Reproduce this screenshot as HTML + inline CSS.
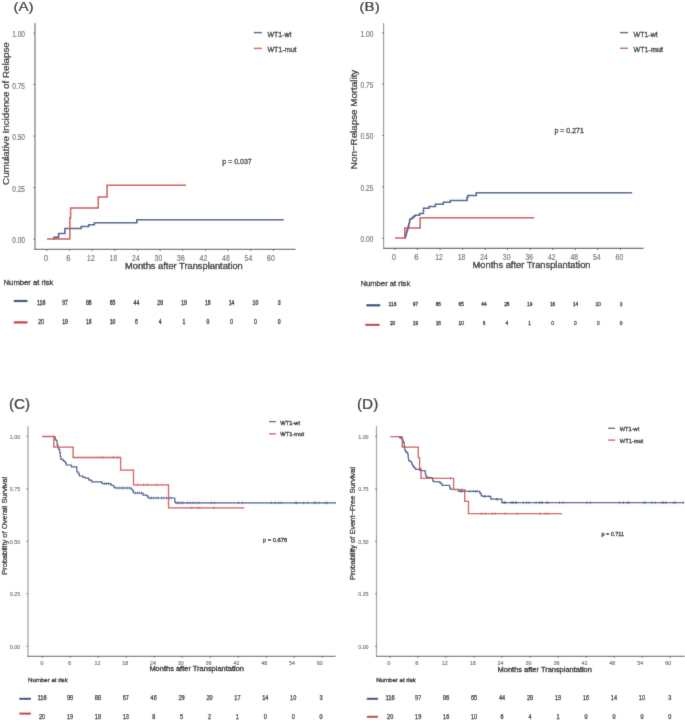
<!DOCTYPE html>
<html><head><meta charset="utf-8"><title>Figure</title>
<style>
html,body{margin:0;padding:0;background:#fff;}
body{width:685px;height:720px;overflow:hidden;}
svg{display:block;}
text{font-family:'Liberation Sans', Arial, sans-serif;}
</style></head>
<body>
<div id="w"><svg width="685" height="720" viewBox="0 0 685 720">
<defs><filter id="bl" x="0" y="0" width="685" height="720" filterUnits="userSpaceOnUse"><feConvolveMatrix order="3" kernelMatrix="0.0114 0.084 0.0114 0.084 0.618 0.084 0.0114 0.084 0.0114" edgeMode="duplicate" preserveAlpha="true"/></filter></defs>
<g filter="url(#bl)">
<rect width="685" height="720" fill="#ffffff"/>
<line x1="35.00" y1="22.90" x2="35.00" y2="250.00" stroke="#9a9893" stroke-width="1.6"/>
<line x1="34.20" y1="249.40" x2="295.60" y2="249.40" stroke="#6c6c6c" stroke-width="1.2"/>
<line x1="33.40" y1="33.10" x2="35.00" y2="33.10" stroke="#444" stroke-width="0.8"/>
<text x="25.0" y="37.0" font-size="8.2" fill="#6a6a6a" stroke="#6a6a6a" stroke-width="0.15" text-anchor="end" textLength="12.7" lengthAdjust="spacingAndGlyphs">1.00</text>
<line x1="33.40" y1="84.60" x2="35.00" y2="84.60" stroke="#444" stroke-width="0.8"/>
<text x="25.0" y="88.5" font-size="8.2" fill="#6a6a6a" stroke="#6a6a6a" stroke-width="0.15" text-anchor="end" textLength="12.7" lengthAdjust="spacingAndGlyphs">0.75</text>
<line x1="33.40" y1="136.10" x2="35.00" y2="136.10" stroke="#444" stroke-width="0.8"/>
<text x="25.0" y="140.0" font-size="8.2" fill="#6a6a6a" stroke="#6a6a6a" stroke-width="0.15" text-anchor="end" textLength="12.7" lengthAdjust="spacingAndGlyphs">0.50</text>
<line x1="33.40" y1="187.60" x2="35.00" y2="187.60" stroke="#444" stroke-width="0.8"/>
<text x="25.0" y="191.5" font-size="8.2" fill="#6a6a6a" stroke="#6a6a6a" stroke-width="0.15" text-anchor="end" textLength="12.7" lengthAdjust="spacingAndGlyphs">0.25</text>
<line x1="33.40" y1="239.10" x2="35.00" y2="239.10" stroke="#444" stroke-width="0.8"/>
<text x="25.0" y="243.0" font-size="8.2" fill="#6a6a6a" stroke="#6a6a6a" stroke-width="0.15" text-anchor="end" textLength="12.7" lengthAdjust="spacingAndGlyphs">0.00</text>
<line x1="46.80" y1="249.40" x2="46.80" y2="251.00" stroke="#444" stroke-width="0.8"/>
<text x="45.90" y="260.8" font-size="8.4" fill="#6a6a6a" stroke="#6a6a6a" stroke-width="0.15" text-anchor="middle" textLength="4.3" lengthAdjust="spacingAndGlyphs">0</text>
<line x1="69.46" y1="249.40" x2="69.46" y2="251.00" stroke="#444" stroke-width="0.8"/>
<text x="68.40" y="260.8" font-size="8.4" fill="#6a6a6a" stroke="#6a6a6a" stroke-width="0.15" text-anchor="middle" textLength="4.3" lengthAdjust="spacingAndGlyphs">6</text>
<line x1="92.12" y1="249.40" x2="92.12" y2="251.00" stroke="#444" stroke-width="0.8"/>
<text x="90.90" y="260.8" font-size="8.4" fill="#6a6a6a" stroke="#6a6a6a" stroke-width="0.15" text-anchor="middle" textLength="7.6" lengthAdjust="spacingAndGlyphs">12</text>
<line x1="114.78" y1="249.40" x2="114.78" y2="251.00" stroke="#444" stroke-width="0.8"/>
<text x="113.40" y="260.8" font-size="8.4" fill="#6a6a6a" stroke="#6a6a6a" stroke-width="0.15" text-anchor="middle" textLength="7.6" lengthAdjust="spacingAndGlyphs">18</text>
<line x1="137.44" y1="249.40" x2="137.44" y2="251.00" stroke="#444" stroke-width="0.8"/>
<text x="135.90" y="260.8" font-size="8.4" fill="#6a6a6a" stroke="#6a6a6a" stroke-width="0.15" text-anchor="middle" textLength="7.6" lengthAdjust="spacingAndGlyphs">24</text>
<line x1="160.10" y1="249.40" x2="160.10" y2="251.00" stroke="#444" stroke-width="0.8"/>
<text x="158.40" y="260.8" font-size="8.4" fill="#6a6a6a" stroke="#6a6a6a" stroke-width="0.15" text-anchor="middle" textLength="7.6" lengthAdjust="spacingAndGlyphs">30</text>
<line x1="182.76" y1="249.40" x2="182.76" y2="251.00" stroke="#444" stroke-width="0.8"/>
<text x="180.90" y="260.8" font-size="8.4" fill="#6a6a6a" stroke="#6a6a6a" stroke-width="0.15" text-anchor="middle" textLength="7.6" lengthAdjust="spacingAndGlyphs">36</text>
<line x1="205.42" y1="249.40" x2="205.42" y2="251.00" stroke="#444" stroke-width="0.8"/>
<text x="203.40" y="260.8" font-size="8.4" fill="#6a6a6a" stroke="#6a6a6a" stroke-width="0.15" text-anchor="middle" textLength="7.6" lengthAdjust="spacingAndGlyphs">42</text>
<line x1="228.08" y1="249.40" x2="228.08" y2="251.00" stroke="#444" stroke-width="0.8"/>
<text x="225.90" y="260.8" font-size="8.4" fill="#6a6a6a" stroke="#6a6a6a" stroke-width="0.15" text-anchor="middle" textLength="7.6" lengthAdjust="spacingAndGlyphs">48</text>
<line x1="250.74" y1="249.40" x2="250.74" y2="251.00" stroke="#444" stroke-width="0.8"/>
<text x="248.40" y="260.8" font-size="8.4" fill="#6a6a6a" stroke="#6a6a6a" stroke-width="0.15" text-anchor="middle" textLength="7.6" lengthAdjust="spacingAndGlyphs">54</text>
<line x1="273.40" y1="249.40" x2="273.40" y2="251.00" stroke="#444" stroke-width="0.8"/>
<text x="270.90" y="260.8" font-size="8.4" fill="#6a6a6a" stroke="#6a6a6a" stroke-width="0.15" text-anchor="middle" textLength="7.6" lengthAdjust="spacingAndGlyphs">60</text>
<text x="125.0" y="268.9" font-size="9.2" fill="#222222" stroke="#222222" stroke-width="0.28" textLength="117.8" lengthAdjust="spacingAndGlyphs">Months after Transplantation</text>
<text transform="translate(8.9,113.6) rotate(-90)" font-size="9.7" fill="#222222" stroke="#222222" stroke-width="0.28" text-anchor="middle" textLength="142.6" lengthAdjust="spacingAndGlyphs">Cumulative Incidence of Relapse</text>
<text x="13.4" y="11.2" font-size="13.5" fill="#111111" stroke="#111111" stroke-width="0.2" textLength="20.2" lengthAdjust="spacingAndGlyphs">(A)</text>
<line x1="253.80" y1="32.60" x2="262.00" y2="32.60" stroke="#3d5489" stroke-width="1.4"/>
<line x1="253.80" y1="48.40" x2="262.00" y2="48.40" stroke="#cf4d4d" stroke-width="1.4"/>
<text x="267.4" y="37.3" font-size="7.6" fill="#222" stroke="#222" stroke-width="0.28" textLength="24.0" lengthAdjust="spacingAndGlyphs">WT1-wt</text>
<text x="267.4" y="52.1" font-size="7.6" fill="#222" stroke="#222" stroke-width="0.28" textLength="29.2" lengthAdjust="spacingAndGlyphs">WT1-mut</text>
<text x="222.3" y="164.3" font-size="7.6" fill="#222" stroke="#222" stroke-width="0.28" textLength="29.4" lengthAdjust="spacingAndGlyphs">p = 0.037</text>
<text x="3.6" y="284.9" font-size="7.8" fill="#222222" stroke="#222222" stroke-width="0.28" textLength="49.8" lengthAdjust="spacingAndGlyphs">Number at risk</text>
<line x1="13.70" y1="301.00" x2="27.50" y2="301.00" stroke="#26427c" stroke-width="2.2"/>
<line x1="13.70" y1="322.40" x2="27.50" y2="322.40" stroke="#c83434" stroke-width="2.2"/>
<text x="41.20" y="304.8" font-size="6.4" fill="#222" stroke="#222" stroke-width="0.3" text-anchor="middle" textLength="8.55" lengthAdjust="spacingAndGlyphs">116</text>
<text x="65.00" y="304.8" font-size="6.4" fill="#222" stroke="#222" stroke-width="0.3" text-anchor="middle" textLength="5.7" lengthAdjust="spacingAndGlyphs">97</text>
<text x="88.80" y="304.8" font-size="6.4" fill="#222" stroke="#222" stroke-width="0.3" text-anchor="middle" textLength="5.7" lengthAdjust="spacingAndGlyphs">86</text>
<text x="112.60" y="304.8" font-size="6.4" fill="#222" stroke="#222" stroke-width="0.3" text-anchor="middle" textLength="5.7" lengthAdjust="spacingAndGlyphs">65</text>
<text x="136.40" y="304.8" font-size="6.4" fill="#222" stroke="#222" stroke-width="0.3" text-anchor="middle" textLength="5.7" lengthAdjust="spacingAndGlyphs">44</text>
<text x="160.20" y="304.8" font-size="6.4" fill="#222" stroke="#222" stroke-width="0.3" text-anchor="middle" textLength="5.7" lengthAdjust="spacingAndGlyphs">28</text>
<text x="184.00" y="304.8" font-size="6.4" fill="#222" stroke="#222" stroke-width="0.3" text-anchor="middle" textLength="5.7" lengthAdjust="spacingAndGlyphs">19</text>
<text x="207.80" y="304.8" font-size="6.4" fill="#222" stroke="#222" stroke-width="0.3" text-anchor="middle" textLength="5.7" lengthAdjust="spacingAndGlyphs">16</text>
<text x="231.60" y="304.8" font-size="6.4" fill="#222" stroke="#222" stroke-width="0.3" text-anchor="middle" textLength="5.7" lengthAdjust="spacingAndGlyphs">14</text>
<text x="255.40" y="304.8" font-size="6.4" fill="#222" stroke="#222" stroke-width="0.3" text-anchor="middle" textLength="5.7" lengthAdjust="spacingAndGlyphs">10</text>
<text x="279.20" y="304.8" font-size="6.4" fill="#222" stroke="#222" stroke-width="0.3" text-anchor="middle" textLength="2.85" lengthAdjust="spacingAndGlyphs">3</text>
<text x="41.20" y="324.1" font-size="6.4" fill="#222" stroke="#222" stroke-width="0.3" text-anchor="middle" textLength="5.7" lengthAdjust="spacingAndGlyphs">20</text>
<text x="65.00" y="324.1" font-size="6.4" fill="#222" stroke="#222" stroke-width="0.3" text-anchor="middle" textLength="5.7" lengthAdjust="spacingAndGlyphs">19</text>
<text x="88.80" y="324.1" font-size="6.4" fill="#222" stroke="#222" stroke-width="0.3" text-anchor="middle" textLength="5.7" lengthAdjust="spacingAndGlyphs">16</text>
<text x="112.60" y="324.1" font-size="6.4" fill="#222" stroke="#222" stroke-width="0.3" text-anchor="middle" textLength="5.7" lengthAdjust="spacingAndGlyphs">10</text>
<text x="136.40" y="324.1" font-size="6.4" fill="#222" stroke="#222" stroke-width="0.3" text-anchor="middle" textLength="2.85" lengthAdjust="spacingAndGlyphs">6</text>
<text x="160.20" y="324.1" font-size="6.4" fill="#222" stroke="#222" stroke-width="0.3" text-anchor="middle" textLength="2.85" lengthAdjust="spacingAndGlyphs">4</text>
<text x="184.00" y="324.1" font-size="6.4" fill="#222" stroke="#222" stroke-width="0.3" text-anchor="middle" textLength="2.85" lengthAdjust="spacingAndGlyphs">1</text>
<text x="207.80" y="324.1" font-size="6.4" fill="#222" stroke="#222" stroke-width="0.3" text-anchor="middle" textLength="2.85" lengthAdjust="spacingAndGlyphs">0</text>
<text x="231.60" y="324.1" font-size="6.4" fill="#222" stroke="#222" stroke-width="0.3" text-anchor="middle" textLength="2.85" lengthAdjust="spacingAndGlyphs">0</text>
<text x="255.40" y="324.1" font-size="6.4" fill="#222" stroke="#222" stroke-width="0.3" text-anchor="middle" textLength="2.85" lengthAdjust="spacingAndGlyphs">0</text>
<text x="279.20" y="324.1" font-size="6.4" fill="#222" stroke="#222" stroke-width="0.3" text-anchor="middle" textLength="2.85" lengthAdjust="spacingAndGlyphs">0</text>
<path d="M53.20,239.10 H54.00 V237.30 H58.60 V233.50 H64.90 V228.40 H81.20 V226.50 H88.60 V224.70 H94.40 V222.80 H136.80 V219.70 H283.80" fill="none" stroke="#3d5489" stroke-width="1.5" stroke-linejoin="miter" stroke-linecap="butt"/>
<path d="M47.00,239.10 H69.80 V218.00 H70.60 V208.00 H98.30 V197.10 H107.10 V185.20 H186.00" fill="none" stroke="#cf4d4d" stroke-width="1.5" stroke-linejoin="miter" stroke-linecap="butt"/>
<line x1="383.60" y1="22.90" x2="383.60" y2="249.00" stroke="#979797" stroke-width="1.2"/>
<line x1="383.00" y1="248.40" x2="643.60" y2="248.40" stroke="#5e5e5e" stroke-width="1.2"/>
<line x1="382.00" y1="32.80" x2="383.60" y2="32.80" stroke="#444" stroke-width="0.8"/>
<text x="373.3" y="36.699999999999996" font-size="8.2" fill="#6a6a6a" stroke="#6a6a6a" stroke-width="0.15" text-anchor="end" textLength="12.8" lengthAdjust="spacingAndGlyphs">1.00</text>
<line x1="382.00" y1="84.20" x2="383.60" y2="84.20" stroke="#444" stroke-width="0.8"/>
<text x="373.3" y="88.10000000000001" font-size="8.2" fill="#6a6a6a" stroke="#6a6a6a" stroke-width="0.15" text-anchor="end" textLength="12.8" lengthAdjust="spacingAndGlyphs">0.75</text>
<line x1="382.00" y1="135.55" x2="383.60" y2="135.55" stroke="#444" stroke-width="0.8"/>
<text x="373.3" y="139.45000000000002" font-size="8.2" fill="#6a6a6a" stroke="#6a6a6a" stroke-width="0.15" text-anchor="end" textLength="12.8" lengthAdjust="spacingAndGlyphs">0.50</text>
<line x1="382.00" y1="186.90" x2="383.60" y2="186.90" stroke="#444" stroke-width="0.8"/>
<text x="373.3" y="190.8" font-size="8.2" fill="#6a6a6a" stroke="#6a6a6a" stroke-width="0.15" text-anchor="end" textLength="12.8" lengthAdjust="spacingAndGlyphs">0.25</text>
<line x1="382.00" y1="238.30" x2="383.60" y2="238.30" stroke="#444" stroke-width="0.8"/>
<text x="373.3" y="242.20000000000002" font-size="8.2" fill="#6a6a6a" stroke="#6a6a6a" stroke-width="0.15" text-anchor="end" textLength="12.8" lengthAdjust="spacingAndGlyphs">0.00</text>
<line x1="394.90" y1="248.40" x2="394.90" y2="250.00" stroke="#444" stroke-width="0.8"/>
<text x="393.90" y="259.8" font-size="8.4" fill="#6a6a6a" stroke="#6a6a6a" stroke-width="0.15" text-anchor="middle" textLength="4.3" lengthAdjust="spacingAndGlyphs">0</text>
<line x1="417.45" y1="248.40" x2="417.45" y2="250.00" stroke="#444" stroke-width="0.8"/>
<text x="416.45" y="259.8" font-size="8.4" fill="#6a6a6a" stroke="#6a6a6a" stroke-width="0.15" text-anchor="middle" textLength="4.3" lengthAdjust="spacingAndGlyphs">6</text>
<line x1="440.00" y1="248.40" x2="440.00" y2="250.00" stroke="#444" stroke-width="0.8"/>
<text x="439.00" y="259.8" font-size="8.4" fill="#6a6a6a" stroke="#6a6a6a" stroke-width="0.15" text-anchor="middle" textLength="7.6" lengthAdjust="spacingAndGlyphs">12</text>
<line x1="462.55" y1="248.40" x2="462.55" y2="250.00" stroke="#444" stroke-width="0.8"/>
<text x="461.55" y="259.8" font-size="8.4" fill="#6a6a6a" stroke="#6a6a6a" stroke-width="0.15" text-anchor="middle" textLength="7.6" lengthAdjust="spacingAndGlyphs">18</text>
<line x1="485.10" y1="248.40" x2="485.10" y2="250.00" stroke="#444" stroke-width="0.8"/>
<text x="484.10" y="259.8" font-size="8.4" fill="#6a6a6a" stroke="#6a6a6a" stroke-width="0.15" text-anchor="middle" textLength="7.6" lengthAdjust="spacingAndGlyphs">24</text>
<line x1="507.65" y1="248.40" x2="507.65" y2="250.00" stroke="#444" stroke-width="0.8"/>
<text x="506.65" y="259.8" font-size="8.4" fill="#6a6a6a" stroke="#6a6a6a" stroke-width="0.15" text-anchor="middle" textLength="7.6" lengthAdjust="spacingAndGlyphs">30</text>
<line x1="530.20" y1="248.40" x2="530.20" y2="250.00" stroke="#444" stroke-width="0.8"/>
<text x="529.20" y="259.8" font-size="8.4" fill="#6a6a6a" stroke="#6a6a6a" stroke-width="0.15" text-anchor="middle" textLength="7.6" lengthAdjust="spacingAndGlyphs">36</text>
<line x1="552.75" y1="248.40" x2="552.75" y2="250.00" stroke="#444" stroke-width="0.8"/>
<text x="551.75" y="259.8" font-size="8.4" fill="#6a6a6a" stroke="#6a6a6a" stroke-width="0.15" text-anchor="middle" textLength="7.6" lengthAdjust="spacingAndGlyphs">42</text>
<line x1="575.30" y1="248.40" x2="575.30" y2="250.00" stroke="#444" stroke-width="0.8"/>
<text x="574.30" y="259.8" font-size="8.4" fill="#6a6a6a" stroke="#6a6a6a" stroke-width="0.15" text-anchor="middle" textLength="7.6" lengthAdjust="spacingAndGlyphs">48</text>
<line x1="597.85" y1="248.40" x2="597.85" y2="250.00" stroke="#444" stroke-width="0.8"/>
<text x="596.85" y="259.8" font-size="8.4" fill="#6a6a6a" stroke="#6a6a6a" stroke-width="0.15" text-anchor="middle" textLength="7.6" lengthAdjust="spacingAndGlyphs">54</text>
<line x1="620.40" y1="248.40" x2="620.40" y2="250.00" stroke="#444" stroke-width="0.8"/>
<text x="619.40" y="259.8" font-size="8.4" fill="#6a6a6a" stroke="#6a6a6a" stroke-width="0.15" text-anchor="middle" textLength="7.6" lengthAdjust="spacingAndGlyphs">60</text>
<text x="472.6" y="268.0" font-size="9.2" fill="#222222" stroke="#222222" stroke-width="0.28" textLength="117.9" lengthAdjust="spacingAndGlyphs">Months after Transplantation</text>
<text transform="translate(356.9,119.45) rotate(-90)" font-size="9.5" fill="#222222" stroke="#222222" stroke-width="0.28" text-anchor="middle" textLength="99.4" lengthAdjust="spacingAndGlyphs">Non−Relapse Mortality</text>
<text x="359.5" y="11.2" font-size="13.5" fill="#111111" stroke="#111111" stroke-width="0.2" textLength="20.2" lengthAdjust="spacingAndGlyphs">(B)</text>
<line x1="619.90" y1="32.60" x2="628.00" y2="32.60" stroke="#3d5489" stroke-width="1.4"/>
<line x1="619.90" y1="48.30" x2="628.00" y2="48.30" stroke="#cf4d4d" stroke-width="1.4"/>
<text x="633.5" y="37.3" font-size="7.6" fill="#222" stroke="#222" stroke-width="0.28" textLength="24.2" lengthAdjust="spacingAndGlyphs">WT1-wt</text>
<text x="633.5" y="52.1" font-size="7.6" fill="#222" stroke="#222" stroke-width="0.28" textLength="29.4" lengthAdjust="spacingAndGlyphs">WT1-mut</text>
<text x="554.5" y="133.0" font-size="7.6" fill="#222" stroke="#222" stroke-width="0.28" textLength="29.3" lengthAdjust="spacingAndGlyphs">p = 0.271</text>
<text x="360.4" y="286.1" font-size="7.8" fill="#222222" stroke="#222222" stroke-width="0.28" textLength="49.9" lengthAdjust="spacingAndGlyphs">Number at risk</text>
<line x1="366.30" y1="305.30" x2="380.30" y2="305.30" stroke="#26427c" stroke-width="2.2"/>
<line x1="365.40" y1="324.90" x2="379.60" y2="324.90" stroke="#c83434" stroke-width="2.2"/>
<text x="392.60" y="305.9" font-size="6.0" fill="#222" stroke="#222" stroke-width="0.3" text-anchor="middle" textLength="8.01" lengthAdjust="spacingAndGlyphs">116</text>
<text x="415.45" y="305.9" font-size="6.0" fill="#222" stroke="#222" stroke-width="0.3" text-anchor="middle" textLength="5.34" lengthAdjust="spacingAndGlyphs">97</text>
<text x="438.30" y="305.9" font-size="6.0" fill="#222" stroke="#222" stroke-width="0.3" text-anchor="middle" textLength="5.34" lengthAdjust="spacingAndGlyphs">86</text>
<text x="461.15" y="305.9" font-size="6.0" fill="#222" stroke="#222" stroke-width="0.3" text-anchor="middle" textLength="5.34" lengthAdjust="spacingAndGlyphs">65</text>
<text x="484.00" y="305.9" font-size="6.0" fill="#222" stroke="#222" stroke-width="0.3" text-anchor="middle" textLength="5.34" lengthAdjust="spacingAndGlyphs">44</text>
<text x="506.85" y="305.9" font-size="6.0" fill="#222" stroke="#222" stroke-width="0.3" text-anchor="middle" textLength="5.34" lengthAdjust="spacingAndGlyphs">28</text>
<text x="529.70" y="305.9" font-size="6.0" fill="#222" stroke="#222" stroke-width="0.3" text-anchor="middle" textLength="5.34" lengthAdjust="spacingAndGlyphs">19</text>
<text x="552.55" y="305.9" font-size="6.0" fill="#222" stroke="#222" stroke-width="0.3" text-anchor="middle" textLength="5.34" lengthAdjust="spacingAndGlyphs">16</text>
<text x="575.40" y="305.9" font-size="6.0" fill="#222" stroke="#222" stroke-width="0.3" text-anchor="middle" textLength="5.34" lengthAdjust="spacingAndGlyphs">14</text>
<text x="598.25" y="305.9" font-size="6.0" fill="#222" stroke="#222" stroke-width="0.3" text-anchor="middle" textLength="5.34" lengthAdjust="spacingAndGlyphs">10</text>
<text x="621.10" y="305.9" font-size="6.0" fill="#222" stroke="#222" stroke-width="0.3" text-anchor="middle" textLength="2.67" lengthAdjust="spacingAndGlyphs">3</text>
<text x="392.60" y="324.6" font-size="6.0" fill="#222" stroke="#222" stroke-width="0.3" text-anchor="middle" textLength="5.34" lengthAdjust="spacingAndGlyphs">20</text>
<text x="415.45" y="324.6" font-size="6.0" fill="#222" stroke="#222" stroke-width="0.3" text-anchor="middle" textLength="5.34" lengthAdjust="spacingAndGlyphs">19</text>
<text x="438.30" y="324.6" font-size="6.0" fill="#222" stroke="#222" stroke-width="0.3" text-anchor="middle" textLength="5.34" lengthAdjust="spacingAndGlyphs">16</text>
<text x="461.15" y="324.6" font-size="6.0" fill="#222" stroke="#222" stroke-width="0.3" text-anchor="middle" textLength="5.34" lengthAdjust="spacingAndGlyphs">10</text>
<text x="484.00" y="324.6" font-size="6.0" fill="#222" stroke="#222" stroke-width="0.3" text-anchor="middle" textLength="2.67" lengthAdjust="spacingAndGlyphs">6</text>
<text x="506.85" y="324.6" font-size="6.0" fill="#222" stroke="#222" stroke-width="0.3" text-anchor="middle" textLength="2.67" lengthAdjust="spacingAndGlyphs">4</text>
<text x="529.70" y="324.6" font-size="6.0" fill="#222" stroke="#222" stroke-width="0.3" text-anchor="middle" textLength="2.67" lengthAdjust="spacingAndGlyphs">1</text>
<text x="552.55" y="324.6" font-size="6.0" fill="#222" stroke="#222" stroke-width="0.3" text-anchor="middle" textLength="2.67" lengthAdjust="spacingAndGlyphs">0</text>
<text x="575.40" y="324.6" font-size="6.0" fill="#222" stroke="#222" stroke-width="0.3" text-anchor="middle" textLength="2.67" lengthAdjust="spacingAndGlyphs">0</text>
<text x="598.25" y="324.6" font-size="6.0" fill="#222" stroke="#222" stroke-width="0.3" text-anchor="middle" textLength="2.67" lengthAdjust="spacingAndGlyphs">0</text>
<text x="621.10" y="324.6" font-size="6.0" fill="#222" stroke="#222" stroke-width="0.3" text-anchor="middle" textLength="2.67" lengthAdjust="spacingAndGlyphs">0</text>
<path d="M404.20,238.30 H404.80 V237.00 H405.60 V235.30 H406.30 V232.50 H406.90 V230.50 H407.60 V228.50 H408.20 V226.20 H408.70 V224.50 H409.10 V222.70 H409.60 V220.50 H410.00 V218.70 H412.10 V218.00 H413.00 V217.00 H414.00 V216.00 H415.20 V215.20 H419.60 V213.50 H423.50 V208.20 H429.20 V206.50 H435.40 V204.30 H443.30 V202.30 H450.30 V200.40 H467.00 V197.50 H467.80 V195.50 H476.30 V192.70 H632.10" fill="none" stroke="#3d5489" stroke-width="1.5" stroke-linejoin="miter" stroke-linecap="butt"/>
<path d="M395.00,238.10 H404.70 V227.90 H420.20 V217.70 H534.20" fill="none" stroke="#cf4d4d" stroke-width="1.5" stroke-linejoin="miter" stroke-linecap="butt"/>
<line x1="28.00" y1="426.30" x2="28.00" y2="657.00" stroke="#ababab" stroke-width="1.4"/>
<line x1="27.30" y1="656.40" x2="335.60" y2="656.40" stroke="#7a7a7a" stroke-width="1.2"/>
<line x1="26.60" y1="436.30" x2="28.00" y2="436.30" stroke="#444" stroke-width="0.8"/>
<text x="20.2" y="438.5" font-size="6.2" fill="#6a6a6a" stroke="#6a6a6a" stroke-width="0.15" text-anchor="end" textLength="10.4" lengthAdjust="spacingAndGlyphs">1.00</text>
<line x1="26.60" y1="488.80" x2="28.00" y2="488.80" stroke="#444" stroke-width="0.8"/>
<text x="20.2" y="491.0" font-size="6.2" fill="#6a6a6a" stroke="#6a6a6a" stroke-width="0.15" text-anchor="end" textLength="10.4" lengthAdjust="spacingAndGlyphs">0.75</text>
<line x1="26.60" y1="541.30" x2="28.00" y2="541.30" stroke="#444" stroke-width="0.8"/>
<text x="20.2" y="543.5" font-size="6.2" fill="#6a6a6a" stroke="#6a6a6a" stroke-width="0.15" text-anchor="end" textLength="10.4" lengthAdjust="spacingAndGlyphs">0.50</text>
<line x1="26.60" y1="593.80" x2="28.00" y2="593.80" stroke="#444" stroke-width="0.8"/>
<text x="20.2" y="596.0" font-size="6.2" fill="#6a6a6a" stroke="#6a6a6a" stroke-width="0.15" text-anchor="end" textLength="10.4" lengthAdjust="spacingAndGlyphs">0.25</text>
<line x1="26.60" y1="646.30" x2="28.00" y2="646.30" stroke="#444" stroke-width="0.8"/>
<text x="20.2" y="648.5" font-size="6.2" fill="#6a6a6a" stroke="#6a6a6a" stroke-width="0.15" text-anchor="end" textLength="10.4" lengthAdjust="spacingAndGlyphs">0.00</text>
<line x1="42.20" y1="656.40" x2="42.20" y2="657.80" stroke="#444" stroke-width="0.8"/>
<text x="41.80" y="665.3" font-size="6.2" fill="#6a6a6a" stroke="#6a6a6a" stroke-width="0.15" text-anchor="middle" textLength="3.2" lengthAdjust="spacingAndGlyphs">0</text>
<line x1="70.20" y1="656.40" x2="70.20" y2="657.80" stroke="#444" stroke-width="0.8"/>
<text x="69.60" y="665.3" font-size="6.2" fill="#6a6a6a" stroke="#6a6a6a" stroke-width="0.15" text-anchor="middle" textLength="3.2" lengthAdjust="spacingAndGlyphs">6</text>
<line x1="98.20" y1="656.40" x2="98.20" y2="657.80" stroke="#444" stroke-width="0.8"/>
<text x="97.40" y="665.3" font-size="6.2" fill="#6a6a6a" stroke="#6a6a6a" stroke-width="0.15" text-anchor="middle" textLength="6.0" lengthAdjust="spacingAndGlyphs">12</text>
<line x1="126.20" y1="656.40" x2="126.20" y2="657.80" stroke="#444" stroke-width="0.8"/>
<text x="125.20" y="665.3" font-size="6.2" fill="#6a6a6a" stroke="#6a6a6a" stroke-width="0.15" text-anchor="middle" textLength="6.0" lengthAdjust="spacingAndGlyphs">18</text>
<line x1="154.20" y1="656.40" x2="154.20" y2="657.80" stroke="#444" stroke-width="0.8"/>
<text x="153.00" y="665.3" font-size="6.2" fill="#6a6a6a" stroke="#6a6a6a" stroke-width="0.15" text-anchor="middle" textLength="6.0" lengthAdjust="spacingAndGlyphs">24</text>
<line x1="182.20" y1="656.40" x2="182.20" y2="657.80" stroke="#444" stroke-width="0.8"/>
<text x="180.80" y="665.3" font-size="6.2" fill="#6a6a6a" stroke="#6a6a6a" stroke-width="0.15" text-anchor="middle" textLength="6.0" lengthAdjust="spacingAndGlyphs">30</text>
<line x1="210.20" y1="656.40" x2="210.20" y2="657.80" stroke="#444" stroke-width="0.8"/>
<text x="208.60" y="665.3" font-size="6.2" fill="#6a6a6a" stroke="#6a6a6a" stroke-width="0.15" text-anchor="middle" textLength="6.0" lengthAdjust="spacingAndGlyphs">36</text>
<line x1="238.20" y1="656.40" x2="238.20" y2="657.80" stroke="#444" stroke-width="0.8"/>
<text x="236.40" y="665.3" font-size="6.2" fill="#6a6a6a" stroke="#6a6a6a" stroke-width="0.15" text-anchor="middle" textLength="6.0" lengthAdjust="spacingAndGlyphs">42</text>
<line x1="266.20" y1="656.40" x2="266.20" y2="657.80" stroke="#444" stroke-width="0.8"/>
<text x="264.20" y="665.3" font-size="6.2" fill="#6a6a6a" stroke="#6a6a6a" stroke-width="0.15" text-anchor="middle" textLength="6.0" lengthAdjust="spacingAndGlyphs">48</text>
<line x1="294.20" y1="656.40" x2="294.20" y2="657.80" stroke="#444" stroke-width="0.8"/>
<text x="292.00" y="665.3" font-size="6.2" fill="#6a6a6a" stroke="#6a6a6a" stroke-width="0.15" text-anchor="middle" textLength="6.0" lengthAdjust="spacingAndGlyphs">54</text>
<line x1="322.20" y1="656.40" x2="322.20" y2="657.80" stroke="#444" stroke-width="0.8"/>
<text x="319.80" y="665.3" font-size="6.2" fill="#6a6a6a" stroke="#6a6a6a" stroke-width="0.15" text-anchor="middle" textLength="6.0" lengthAdjust="spacingAndGlyphs">60</text>
<text x="149.4" y="671.4" font-size="7.2" fill="#222222" stroke="#222222" stroke-width="0.3" textLength="94.6" lengthAdjust="spacingAndGlyphs">Months after Transplantation</text>
<text transform="translate(6.9,525.8) rotate(-90)" font-size="8.0" fill="#222222" stroke="#222222" stroke-width="0.3" text-anchor="middle" textLength="98.0" lengthAdjust="spacingAndGlyphs">Probability of Overall Survival</text>
<text x="8.9" y="408.9" font-size="14.4" fill="#111111" stroke="#111111" stroke-width="0.2" textLength="21.3" lengthAdjust="spacingAndGlyphs">(C)</text>
<line x1="269.00" y1="421.60" x2="276.00" y2="421.60" stroke="#3d5489" stroke-width="1.3"/>
<line x1="269.00" y1="433.80" x2="276.00" y2="433.80" stroke="#cf4d4d" stroke-width="1.3"/>
<text x="280.2" y="425.1" font-size="5.9" fill="#222" stroke="#222" stroke-width="0.3" textLength="19.9" lengthAdjust="spacingAndGlyphs">WT1-wt</text>
<text x="280.2" y="436.4" font-size="5.9" fill="#222" stroke="#222" stroke-width="0.3" textLength="23.8" lengthAdjust="spacingAndGlyphs">WT1-mut</text>
<text x="262.8" y="541.5" font-size="6.2" fill="#222" stroke="#222" stroke-width="0.3" textLength="24.4" lengthAdjust="spacingAndGlyphs">p = 0.678</text>
<text x="28.1" y="681.9" font-size="6.1" fill="#222222" stroke="#222222" stroke-width="0.3" textLength="39.6" lengthAdjust="spacingAndGlyphs">Number at risk</text>
<line x1="19.30" y1="698.80" x2="31.00" y2="698.80" stroke="#26427c" stroke-width="2.0"/>
<line x1="19.30" y1="713.60" x2="31.00" y2="713.60" stroke="#c83434" stroke-width="2.0"/>
<text x="42.10" y="699.6" font-size="6.4" fill="#222" stroke="#222" stroke-width="0.25" text-anchor="middle" textLength="9.3" lengthAdjust="spacingAndGlyphs">116</text>
<text x="70.00" y="699.6" font-size="6.4" fill="#222" stroke="#222" stroke-width="0.25" text-anchor="middle" textLength="6.2" lengthAdjust="spacingAndGlyphs">99</text>
<text x="97.90" y="699.6" font-size="6.4" fill="#222" stroke="#222" stroke-width="0.25" text-anchor="middle" textLength="6.2" lengthAdjust="spacingAndGlyphs">88</text>
<text x="125.80" y="699.6" font-size="6.4" fill="#222" stroke="#222" stroke-width="0.25" text-anchor="middle" textLength="6.2" lengthAdjust="spacingAndGlyphs">67</text>
<text x="153.70" y="699.6" font-size="6.4" fill="#222" stroke="#222" stroke-width="0.25" text-anchor="middle" textLength="6.2" lengthAdjust="spacingAndGlyphs">46</text>
<text x="181.60" y="699.6" font-size="6.4" fill="#222" stroke="#222" stroke-width="0.25" text-anchor="middle" textLength="6.2" lengthAdjust="spacingAndGlyphs">29</text>
<text x="209.50" y="699.6" font-size="6.4" fill="#222" stroke="#222" stroke-width="0.25" text-anchor="middle" textLength="6.2" lengthAdjust="spacingAndGlyphs">20</text>
<text x="237.40" y="699.6" font-size="6.4" fill="#222" stroke="#222" stroke-width="0.25" text-anchor="middle" textLength="6.2" lengthAdjust="spacingAndGlyphs">17</text>
<text x="265.30" y="699.6" font-size="6.4" fill="#222" stroke="#222" stroke-width="0.25" text-anchor="middle" textLength="6.2" lengthAdjust="spacingAndGlyphs">14</text>
<text x="293.20" y="699.6" font-size="6.4" fill="#222" stroke="#222" stroke-width="0.25" text-anchor="middle" textLength="6.2" lengthAdjust="spacingAndGlyphs">10</text>
<text x="321.10" y="699.6" font-size="6.4" fill="#222" stroke="#222" stroke-width="0.25" text-anchor="middle" textLength="3.1" lengthAdjust="spacingAndGlyphs">3</text>
<text x="42.10" y="718.6" font-size="6.4" fill="#222" stroke="#222" stroke-width="0.25" text-anchor="middle" textLength="6.2" lengthAdjust="spacingAndGlyphs">20</text>
<text x="70.00" y="718.6" font-size="6.4" fill="#222" stroke="#222" stroke-width="0.25" text-anchor="middle" textLength="6.2" lengthAdjust="spacingAndGlyphs">19</text>
<text x="97.90" y="718.6" font-size="6.4" fill="#222" stroke="#222" stroke-width="0.25" text-anchor="middle" textLength="6.2" lengthAdjust="spacingAndGlyphs">18</text>
<text x="125.80" y="718.6" font-size="6.4" fill="#222" stroke="#222" stroke-width="0.25" text-anchor="middle" textLength="6.2" lengthAdjust="spacingAndGlyphs">13</text>
<text x="153.70" y="718.6" font-size="6.4" fill="#222" stroke="#222" stroke-width="0.25" text-anchor="middle" textLength="3.1" lengthAdjust="spacingAndGlyphs">8</text>
<text x="181.60" y="718.6" font-size="6.4" fill="#222" stroke="#222" stroke-width="0.25" text-anchor="middle" textLength="3.1" lengthAdjust="spacingAndGlyphs">5</text>
<text x="209.50" y="718.6" font-size="6.4" fill="#222" stroke="#222" stroke-width="0.25" text-anchor="middle" textLength="3.1" lengthAdjust="spacingAndGlyphs">2</text>
<text x="237.40" y="718.6" font-size="6.4" fill="#222" stroke="#222" stroke-width="0.25" text-anchor="middle" textLength="3.1" lengthAdjust="spacingAndGlyphs">1</text>
<text x="265.30" y="718.6" font-size="6.4" fill="#222" stroke="#222" stroke-width="0.25" text-anchor="middle" textLength="3.1" lengthAdjust="spacingAndGlyphs">0</text>
<text x="293.20" y="718.6" font-size="6.4" fill="#222" stroke="#222" stroke-width="0.25" text-anchor="middle" textLength="3.1" lengthAdjust="spacingAndGlyphs">0</text>
<text x="321.10" y="718.6" font-size="6.4" fill="#222" stroke="#222" stroke-width="0.25" text-anchor="middle" textLength="3.1" lengthAdjust="spacingAndGlyphs">0</text>
<path d="M53.40,436.40 H54.00 V437.00 H55.30 V439.60 H56.20 V440.50 H57.10 V444.90 H58.00 V448.00 H58.80 V449.70 H59.70 V452.80 H60.30 V456.30 H60.80 V459.30 H63.20 V460.60 H64.10 V461.50 H65.40 V462.80 H66.30 V465.00 H71.50 V466.80 H76.80 V472.00 H78.50 V473.80 H79.40 V476.00 H82.90 V477.30 H85.50 V478.20 H88.60 V479.90 H90.40 V480.40 H91.70 V481.80 H102.00 V483.60 H110.80 V485.10 H112.50 V485.50 H113.80 V486.80 H114.70 V488.00 H131.30 V489.50 H132.70 V491.20 H133.50 V493.00 H143.00 V495.20 H146.70 V496.00 H148.10 V498.00 H174.80 V501.50 H175.20 V502.90 H335.20" fill="none" stroke="#3d5489" stroke-width="1.2" stroke-linejoin="miter" stroke-linecap="butt"/>
<line x1="104.50" y1="482.30" x2="104.50" y2="484.90" stroke="#3d5489" stroke-width="0.7"/>
<line x1="106.50" y1="482.30" x2="106.50" y2="484.90" stroke="#3d5489" stroke-width="0.7"/>
<line x1="108.50" y1="482.30" x2="108.50" y2="484.90" stroke="#3d5489" stroke-width="0.7"/>
<line x1="117.00" y1="486.70" x2="117.00" y2="489.30" stroke="#3d5489" stroke-width="0.7"/>
<line x1="119.50" y1="486.70" x2="119.50" y2="489.30" stroke="#3d5489" stroke-width="0.7"/>
<line x1="121.50" y1="486.70" x2="121.50" y2="489.30" stroke="#3d5489" stroke-width="0.7"/>
<line x1="123.00" y1="486.70" x2="123.00" y2="489.30" stroke="#3d5489" stroke-width="0.7"/>
<line x1="125.00" y1="486.70" x2="125.00" y2="489.30" stroke="#3d5489" stroke-width="0.7"/>
<line x1="127.50" y1="486.70" x2="127.50" y2="489.30" stroke="#3d5489" stroke-width="0.7"/>
<line x1="129.50" y1="486.70" x2="129.50" y2="489.30" stroke="#3d5489" stroke-width="0.7"/>
<line x1="135.50" y1="491.70" x2="135.50" y2="494.30" stroke="#3d5489" stroke-width="0.7"/>
<line x1="137.50" y1="491.70" x2="137.50" y2="494.30" stroke="#3d5489" stroke-width="0.7"/>
<line x1="139.50" y1="491.70" x2="139.50" y2="494.30" stroke="#3d5489" stroke-width="0.7"/>
<line x1="141.50" y1="491.70" x2="141.50" y2="494.30" stroke="#3d5489" stroke-width="0.7"/>
<line x1="150.00" y1="496.70" x2="150.00" y2="499.30" stroke="#3d5489" stroke-width="0.7"/>
<line x1="151.50" y1="496.70" x2="151.50" y2="499.30" stroke="#3d5489" stroke-width="0.7"/>
<line x1="153.50" y1="496.70" x2="153.50" y2="499.30" stroke="#3d5489" stroke-width="0.7"/>
<line x1="156.00" y1="496.70" x2="156.00" y2="499.30" stroke="#3d5489" stroke-width="0.7"/>
<line x1="158.00" y1="496.70" x2="158.00" y2="499.30" stroke="#3d5489" stroke-width="0.7"/>
<line x1="161.50" y1="496.70" x2="161.50" y2="499.30" stroke="#3d5489" stroke-width="0.7"/>
<line x1="163.50" y1="496.70" x2="163.50" y2="499.30" stroke="#3d5489" stroke-width="0.7"/>
<line x1="166.50" y1="496.70" x2="166.50" y2="499.30" stroke="#3d5489" stroke-width="0.7"/>
<line x1="169.00" y1="496.70" x2="169.00" y2="499.30" stroke="#3d5489" stroke-width="0.7"/>
<line x1="171.00" y1="496.70" x2="171.00" y2="499.30" stroke="#3d5489" stroke-width="0.7"/>
<line x1="177.00" y1="501.60" x2="177.00" y2="504.20" stroke="#3d5489" stroke-width="0.7"/>
<line x1="178.50" y1="501.60" x2="178.50" y2="504.20" stroke="#3d5489" stroke-width="0.7"/>
<line x1="181.00" y1="501.60" x2="181.00" y2="504.20" stroke="#3d5489" stroke-width="0.7"/>
<line x1="183.00" y1="501.60" x2="183.00" y2="504.20" stroke="#3d5489" stroke-width="0.7"/>
<line x1="187.50" y1="501.60" x2="187.50" y2="504.20" stroke="#3d5489" stroke-width="0.7"/>
<line x1="190.00" y1="501.60" x2="190.00" y2="504.20" stroke="#3d5489" stroke-width="0.7"/>
<line x1="193.00" y1="501.60" x2="193.00" y2="504.20" stroke="#3d5489" stroke-width="0.7"/>
<line x1="196.00" y1="501.60" x2="196.00" y2="504.20" stroke="#3d5489" stroke-width="0.7"/>
<line x1="199.00" y1="501.60" x2="199.00" y2="504.20" stroke="#3d5489" stroke-width="0.7"/>
<line x1="211.20" y1="501.60" x2="211.20" y2="504.20" stroke="#3d5489" stroke-width="0.7"/>
<line x1="214.40" y1="501.60" x2="214.40" y2="504.20" stroke="#3d5489" stroke-width="0.7"/>
<line x1="238.50" y1="501.60" x2="238.50" y2="504.20" stroke="#3d5489" stroke-width="0.7"/>
<line x1="242.50" y1="501.60" x2="242.50" y2="504.20" stroke="#3d5489" stroke-width="0.7"/>
<line x1="271.40" y1="501.60" x2="271.40" y2="504.20" stroke="#3d5489" stroke-width="0.7"/>
<line x1="275.40" y1="501.60" x2="275.40" y2="504.20" stroke="#3d5489" stroke-width="0.7"/>
<line x1="278.70" y1="501.60" x2="278.70" y2="504.20" stroke="#3d5489" stroke-width="0.7"/>
<line x1="281.30" y1="501.60" x2="281.30" y2="504.20" stroke="#3d5489" stroke-width="0.7"/>
<line x1="295.70" y1="501.60" x2="295.70" y2="504.20" stroke="#3d5489" stroke-width="0.7"/>
<line x1="297.00" y1="501.60" x2="297.00" y2="504.20" stroke="#3d5489" stroke-width="0.7"/>
<line x1="303.60" y1="501.60" x2="303.60" y2="504.20" stroke="#3d5489" stroke-width="0.7"/>
<line x1="307.60" y1="501.60" x2="307.60" y2="504.20" stroke="#3d5489" stroke-width="0.7"/>
<line x1="314.10" y1="501.60" x2="314.10" y2="504.20" stroke="#3d5489" stroke-width="0.7"/>
<line x1="315.40" y1="501.60" x2="315.40" y2="504.20" stroke="#3d5489" stroke-width="0.7"/>
<line x1="318.70" y1="501.60" x2="318.70" y2="504.20" stroke="#3d5489" stroke-width="0.7"/>
<line x1="325.30" y1="501.60" x2="325.30" y2="504.20" stroke="#3d5489" stroke-width="0.7"/>
<line x1="327.30" y1="501.60" x2="327.30" y2="504.20" stroke="#3d5489" stroke-width="0.7"/>
<line x1="335.20" y1="501.60" x2="335.20" y2="504.20" stroke="#3d5489" stroke-width="0.7"/>
<path d="M42.20,436.50 H53.80 V447.10 H73.10 V457.50 H120.60 V470.20 H133.50 V484.90 H168.50 V507.80 H244.20" fill="none" stroke="#cf4d4d" stroke-width="1.3" stroke-linejoin="miter" stroke-linecap="butt"/>
<line x1="102.40" y1="456.20" x2="102.40" y2="458.80" stroke="#cf4d4d" stroke-width="0.7"/>
<line x1="113.40" y1="456.20" x2="113.40" y2="458.80" stroke="#cf4d4d" stroke-width="0.7"/>
<line x1="117.60" y1="456.20" x2="117.60" y2="458.80" stroke="#cf4d4d" stroke-width="0.7"/>
<line x1="137.50" y1="483.60" x2="137.50" y2="486.20" stroke="#cf4d4d" stroke-width="0.7"/>
<line x1="143.60" y1="483.60" x2="143.60" y2="486.20" stroke="#cf4d4d" stroke-width="0.7"/>
<line x1="147.40" y1="483.60" x2="147.40" y2="486.20" stroke="#cf4d4d" stroke-width="0.7"/>
<line x1="156.80" y1="483.60" x2="156.80" y2="486.20" stroke="#cf4d4d" stroke-width="0.7"/>
<line x1="191.80" y1="506.50" x2="191.80" y2="509.10" stroke="#cf4d4d" stroke-width="0.7"/>
<line x1="197.40" y1="506.50" x2="197.40" y2="509.10" stroke="#cf4d4d" stroke-width="0.7"/>
<line x1="199.70" y1="506.50" x2="199.70" y2="509.10" stroke="#cf4d4d" stroke-width="0.7"/>
<line x1="214.00" y1="506.50" x2="214.00" y2="509.10" stroke="#cf4d4d" stroke-width="0.7"/>
<line x1="376.50" y1="426.10" x2="376.50" y2="657.00" stroke="#9e9e9e" stroke-width="1.2"/>
<line x1="375.90" y1="656.40" x2="684.60" y2="656.40" stroke="#7a7a7a" stroke-width="1.2"/>
<line x1="375.10" y1="436.40" x2="376.50" y2="436.40" stroke="#444" stroke-width="0.8"/>
<text x="368.6" y="438.59999999999997" font-size="6.2" fill="#6a6a6a" stroke="#6a6a6a" stroke-width="0.15" text-anchor="end" textLength="10.4" lengthAdjust="spacingAndGlyphs">1.00</text>
<line x1="375.10" y1="488.90" x2="376.50" y2="488.90" stroke="#444" stroke-width="0.8"/>
<text x="368.6" y="491.09999999999997" font-size="6.2" fill="#6a6a6a" stroke="#6a6a6a" stroke-width="0.15" text-anchor="end" textLength="10.4" lengthAdjust="spacingAndGlyphs">0.75</text>
<line x1="375.10" y1="541.40" x2="376.50" y2="541.40" stroke="#444" stroke-width="0.8"/>
<text x="368.6" y="543.6" font-size="6.2" fill="#6a6a6a" stroke="#6a6a6a" stroke-width="0.15" text-anchor="end" textLength="10.4" lengthAdjust="spacingAndGlyphs">0.50</text>
<line x1="375.10" y1="593.90" x2="376.50" y2="593.90" stroke="#444" stroke-width="0.8"/>
<text x="368.6" y="596.1" font-size="6.2" fill="#6a6a6a" stroke="#6a6a6a" stroke-width="0.15" text-anchor="end" textLength="10.4" lengthAdjust="spacingAndGlyphs">0.25</text>
<line x1="375.10" y1="646.30" x2="376.50" y2="646.30" stroke="#444" stroke-width="0.8"/>
<text x="368.6" y="648.5" font-size="6.2" fill="#6a6a6a" stroke="#6a6a6a" stroke-width="0.15" text-anchor="end" textLength="10.4" lengthAdjust="spacingAndGlyphs">0.00</text>
<line x1="389.90" y1="656.40" x2="389.90" y2="657.80" stroke="#444" stroke-width="0.8"/>
<text x="388.90" y="665.3" font-size="6.2" fill="#6a6a6a" stroke="#6a6a6a" stroke-width="0.15" text-anchor="middle" textLength="3.2" lengthAdjust="spacingAndGlyphs">0</text>
<line x1="417.93" y1="656.40" x2="417.93" y2="657.80" stroke="#444" stroke-width="0.8"/>
<text x="416.83" y="665.3" font-size="6.2" fill="#6a6a6a" stroke="#6a6a6a" stroke-width="0.15" text-anchor="middle" textLength="3.2" lengthAdjust="spacingAndGlyphs">6</text>
<line x1="445.96" y1="656.40" x2="445.96" y2="657.80" stroke="#444" stroke-width="0.8"/>
<text x="444.76" y="665.3" font-size="6.2" fill="#6a6a6a" stroke="#6a6a6a" stroke-width="0.15" text-anchor="middle" textLength="6.0" lengthAdjust="spacingAndGlyphs">12</text>
<line x1="473.99" y1="656.40" x2="473.99" y2="657.80" stroke="#444" stroke-width="0.8"/>
<text x="472.69" y="665.3" font-size="6.2" fill="#6a6a6a" stroke="#6a6a6a" stroke-width="0.15" text-anchor="middle" textLength="6.0" lengthAdjust="spacingAndGlyphs">18</text>
<line x1="502.02" y1="656.40" x2="502.02" y2="657.80" stroke="#444" stroke-width="0.8"/>
<text x="500.62" y="665.3" font-size="6.2" fill="#6a6a6a" stroke="#6a6a6a" stroke-width="0.15" text-anchor="middle" textLength="6.0" lengthAdjust="spacingAndGlyphs">24</text>
<line x1="530.05" y1="656.40" x2="530.05" y2="657.80" stroke="#444" stroke-width="0.8"/>
<text x="528.55" y="665.3" font-size="6.2" fill="#6a6a6a" stroke="#6a6a6a" stroke-width="0.15" text-anchor="middle" textLength="6.0" lengthAdjust="spacingAndGlyphs">30</text>
<line x1="558.08" y1="656.40" x2="558.08" y2="657.80" stroke="#444" stroke-width="0.8"/>
<text x="556.48" y="665.3" font-size="6.2" fill="#6a6a6a" stroke="#6a6a6a" stroke-width="0.15" text-anchor="middle" textLength="6.0" lengthAdjust="spacingAndGlyphs">36</text>
<line x1="586.11" y1="656.40" x2="586.11" y2="657.80" stroke="#444" stroke-width="0.8"/>
<text x="584.41" y="665.3" font-size="6.2" fill="#6a6a6a" stroke="#6a6a6a" stroke-width="0.15" text-anchor="middle" textLength="6.0" lengthAdjust="spacingAndGlyphs">42</text>
<line x1="614.14" y1="656.40" x2="614.14" y2="657.80" stroke="#444" stroke-width="0.8"/>
<text x="612.34" y="665.3" font-size="6.2" fill="#6a6a6a" stroke="#6a6a6a" stroke-width="0.15" text-anchor="middle" textLength="6.0" lengthAdjust="spacingAndGlyphs">48</text>
<line x1="642.17" y1="656.40" x2="642.17" y2="657.80" stroke="#444" stroke-width="0.8"/>
<text x="640.27" y="665.3" font-size="6.2" fill="#6a6a6a" stroke="#6a6a6a" stroke-width="0.15" text-anchor="middle" textLength="6.0" lengthAdjust="spacingAndGlyphs">54</text>
<line x1="670.20" y1="656.40" x2="670.20" y2="657.80" stroke="#444" stroke-width="0.8"/>
<text x="668.20" y="665.3" font-size="6.2" fill="#6a6a6a" stroke="#6a6a6a" stroke-width="0.15" text-anchor="middle" textLength="6.0" lengthAdjust="spacingAndGlyphs">60</text>
<text x="497.6" y="671.9" font-size="7.2" fill="#222222" stroke="#222222" stroke-width="0.3" textLength="94.3" lengthAdjust="spacingAndGlyphs">Months after Transplantation</text>
<text transform="translate(355.1,523.45) rotate(-90)" font-size="7.4" fill="#222222" stroke="#222222" stroke-width="0.3" text-anchor="middle" textLength="113.3" lengthAdjust="spacingAndGlyphs">Probability of Event−Free Survival</text>
<text x="357.0" y="408.9" font-size="14.4" fill="#111111" stroke="#111111" stroke-width="0.2" textLength="21.3" lengthAdjust="spacingAndGlyphs">(D)</text>
<line x1="608.10" y1="428.30" x2="615.10" y2="428.30" stroke="#3d5489" stroke-width="1.3"/>
<line x1="608.10" y1="440.10" x2="615.10" y2="440.10" stroke="#cf4d4d" stroke-width="1.3"/>
<text x="619.8" y="431.4" font-size="5.8" fill="#222" stroke="#222" stroke-width="0.3" textLength="19.4" lengthAdjust="spacingAndGlyphs">WT1-wt</text>
<text x="619.8" y="443.2" font-size="5.8" fill="#222" stroke="#222" stroke-width="0.3" textLength="23.4" lengthAdjust="spacingAndGlyphs">WT1-mut</text>
<text x="601.4" y="536.2" font-size="5.6" fill="#222" stroke="#222" stroke-width="0.3" textLength="22.7" lengthAdjust="spacingAndGlyphs">p = 0.711</text>
<text x="376.2" y="682.2" font-size="6.1" fill="#222222" stroke="#222222" stroke-width="0.3" textLength="39.6" lengthAdjust="spacingAndGlyphs">Number at risk</text>
<line x1="366.80" y1="698.80" x2="378.10" y2="698.80" stroke="#26427c" stroke-width="2.0"/>
<line x1="366.80" y1="716.80" x2="378.10" y2="716.80" stroke="#c83434" stroke-width="2.0"/>
<text x="390.20" y="699.8" font-size="6.4" fill="#222" stroke="#222" stroke-width="0.25" text-anchor="middle" textLength="9.3" lengthAdjust="spacingAndGlyphs">116</text>
<text x="418.17" y="699.8" font-size="6.4" fill="#222" stroke="#222" stroke-width="0.25" text-anchor="middle" textLength="6.2" lengthAdjust="spacingAndGlyphs">97</text>
<text x="446.14" y="699.8" font-size="6.4" fill="#222" stroke="#222" stroke-width="0.25" text-anchor="middle" textLength="6.2" lengthAdjust="spacingAndGlyphs">86</text>
<text x="474.11" y="699.8" font-size="6.4" fill="#222" stroke="#222" stroke-width="0.25" text-anchor="middle" textLength="6.2" lengthAdjust="spacingAndGlyphs">65</text>
<text x="502.08" y="699.8" font-size="6.4" fill="#222" stroke="#222" stroke-width="0.25" text-anchor="middle" textLength="6.2" lengthAdjust="spacingAndGlyphs">44</text>
<text x="530.05" y="699.8" font-size="6.4" fill="#222" stroke="#222" stroke-width="0.25" text-anchor="middle" textLength="6.2" lengthAdjust="spacingAndGlyphs">28</text>
<text x="558.02" y="699.8" font-size="6.4" fill="#222" stroke="#222" stroke-width="0.25" text-anchor="middle" textLength="6.2" lengthAdjust="spacingAndGlyphs">19</text>
<text x="585.99" y="699.8" font-size="6.4" fill="#222" stroke="#222" stroke-width="0.25" text-anchor="middle" textLength="6.2" lengthAdjust="spacingAndGlyphs">16</text>
<text x="613.96" y="699.8" font-size="6.4" fill="#222" stroke="#222" stroke-width="0.25" text-anchor="middle" textLength="6.2" lengthAdjust="spacingAndGlyphs">14</text>
<text x="641.93" y="699.8" font-size="6.4" fill="#222" stroke="#222" stroke-width="0.25" text-anchor="middle" textLength="6.2" lengthAdjust="spacingAndGlyphs">10</text>
<text x="669.90" y="699.8" font-size="6.4" fill="#222" stroke="#222" stroke-width="0.25" text-anchor="middle" textLength="3.1" lengthAdjust="spacingAndGlyphs">3</text>
<text x="390.20" y="718.6" font-size="6.4" fill="#222" stroke="#222" stroke-width="0.25" text-anchor="middle" textLength="6.2" lengthAdjust="spacingAndGlyphs">20</text>
<text x="418.17" y="718.6" font-size="6.4" fill="#222" stroke="#222" stroke-width="0.25" text-anchor="middle" textLength="6.2" lengthAdjust="spacingAndGlyphs">19</text>
<text x="446.14" y="718.6" font-size="6.4" fill="#222" stroke="#222" stroke-width="0.25" text-anchor="middle" textLength="6.2" lengthAdjust="spacingAndGlyphs">16</text>
<text x="474.11" y="718.6" font-size="6.4" fill="#222" stroke="#222" stroke-width="0.25" text-anchor="middle" textLength="6.2" lengthAdjust="spacingAndGlyphs">10</text>
<text x="502.08" y="718.6" font-size="6.4" fill="#222" stroke="#222" stroke-width="0.25" text-anchor="middle" textLength="3.1" lengthAdjust="spacingAndGlyphs">6</text>
<text x="530.05" y="718.6" font-size="6.4" fill="#222" stroke="#222" stroke-width="0.25" text-anchor="middle" textLength="3.1" lengthAdjust="spacingAndGlyphs">4</text>
<text x="558.02" y="718.6" font-size="6.4" fill="#222" stroke="#222" stroke-width="0.25" text-anchor="middle" textLength="3.1" lengthAdjust="spacingAndGlyphs">1</text>
<text x="585.99" y="718.6" font-size="6.4" fill="#222" stroke="#222" stroke-width="0.25" text-anchor="middle" textLength="3.1" lengthAdjust="spacingAndGlyphs">0</text>
<text x="613.96" y="718.6" font-size="6.4" fill="#222" stroke="#222" stroke-width="0.25" text-anchor="middle" textLength="3.1" lengthAdjust="spacingAndGlyphs">0</text>
<text x="641.93" y="718.6" font-size="6.4" fill="#222" stroke="#222" stroke-width="0.25" text-anchor="middle" textLength="3.1" lengthAdjust="spacingAndGlyphs">0</text>
<text x="669.90" y="718.6" font-size="6.4" fill="#222" stroke="#222" stroke-width="0.25" text-anchor="middle" textLength="3.1" lengthAdjust="spacingAndGlyphs">0</text>
<path d="M398.40,436.60 H399.00 V437.00 H399.90 V437.90 H401.20 V438.30 H402.10 V439.60 H403.00 V441.80 H403.80 V442.30 H404.30 V446.60 H404.70 V450.10 H405.60 V451.90 H406.90 V452.80 H407.80 V454.50 H408.20 V458.00 H408.60 V460.60 H410.00 V461.50 H411.30 V462.40 H411.70 V464.20 H412.60 V465.90 H413.50 V467.20 H414.80 V468.50 H415.60 V469.40 H419.20 V469.80 H420.00 V470.30 H421.80 V470.70 H425.30 V473.80 H425.70 V476.00 H426.60 V477.30 H428.80 V477.70 H431.80 V478.20 H432.70 V480.80 H433.60 V481.70 H438.40 V481.80 H440.20 V483.40 H441.90 V485.40 H449.60 V487.80 H450.50 V489.30 H458.40 V491.30 H479.80 V493.30 H481.20 V495.50 H482.00 V496.30 H490.80 V499.20 H501.80 V502.60 H684.20" fill="none" stroke="#3d5489" stroke-width="1.2" stroke-linejoin="miter" stroke-linecap="butt"/>
<line x1="460.50" y1="490.00" x2="460.50" y2="492.60" stroke="#3d5489" stroke-width="0.7"/>
<line x1="462.00" y1="490.00" x2="462.00" y2="492.60" stroke="#3d5489" stroke-width="0.7"/>
<line x1="470.00" y1="490.00" x2="470.00" y2="492.60" stroke="#3d5489" stroke-width="0.7"/>
<line x1="473.50" y1="490.00" x2="473.50" y2="492.60" stroke="#3d5489" stroke-width="0.7"/>
<line x1="475.50" y1="490.00" x2="475.50" y2="492.60" stroke="#3d5489" stroke-width="0.7"/>
<line x1="477.00" y1="490.00" x2="477.00" y2="492.60" stroke="#3d5489" stroke-width="0.7"/>
<line x1="484.00" y1="495.00" x2="484.00" y2="497.60" stroke="#3d5489" stroke-width="0.7"/>
<line x1="485.50" y1="495.00" x2="485.50" y2="497.60" stroke="#3d5489" stroke-width="0.7"/>
<line x1="489.00" y1="495.00" x2="489.00" y2="497.60" stroke="#3d5489" stroke-width="0.7"/>
<line x1="496.50" y1="497.90" x2="496.50" y2="500.50" stroke="#3d5489" stroke-width="0.7"/>
<line x1="497.80" y1="497.90" x2="497.80" y2="500.50" stroke="#3d5489" stroke-width="0.7"/>
<line x1="503.00" y1="501.30" x2="503.00" y2="503.90" stroke="#3d5489" stroke-width="0.7"/>
<line x1="504.50" y1="501.30" x2="504.50" y2="503.90" stroke="#3d5489" stroke-width="0.7"/>
<line x1="505.50" y1="501.30" x2="505.50" y2="503.90" stroke="#3d5489" stroke-width="0.7"/>
<line x1="511.00" y1="501.30" x2="511.00" y2="503.90" stroke="#3d5489" stroke-width="0.7"/>
<line x1="512.30" y1="501.30" x2="512.30" y2="503.90" stroke="#3d5489" stroke-width="0.7"/>
<line x1="513.50" y1="501.30" x2="513.50" y2="503.90" stroke="#3d5489" stroke-width="0.7"/>
<line x1="515.50" y1="501.30" x2="515.50" y2="503.90" stroke="#3d5489" stroke-width="0.7"/>
<line x1="516.50" y1="501.30" x2="516.50" y2="503.90" stroke="#3d5489" stroke-width="0.7"/>
<line x1="523.50" y1="501.30" x2="523.50" y2="503.90" stroke="#3d5489" stroke-width="0.7"/>
<line x1="526.50" y1="501.30" x2="526.50" y2="503.90" stroke="#3d5489" stroke-width="0.7"/>
<line x1="529.00" y1="501.30" x2="529.00" y2="503.90" stroke="#3d5489" stroke-width="0.7"/>
<line x1="536.00" y1="501.30" x2="536.00" y2="503.90" stroke="#3d5489" stroke-width="0.7"/>
<line x1="539.50" y1="501.30" x2="539.50" y2="503.90" stroke="#3d5489" stroke-width="0.7"/>
<line x1="541.00" y1="501.30" x2="541.00" y2="503.90" stroke="#3d5489" stroke-width="0.7"/>
<line x1="542.50" y1="501.30" x2="542.50" y2="503.90" stroke="#3d5489" stroke-width="0.7"/>
<line x1="546.50" y1="501.30" x2="546.50" y2="503.90" stroke="#3d5489" stroke-width="0.7"/>
<line x1="548.00" y1="501.30" x2="548.00" y2="503.90" stroke="#3d5489" stroke-width="0.7"/>
<line x1="559.50" y1="501.30" x2="559.50" y2="503.90" stroke="#3d5489" stroke-width="0.7"/>
<line x1="563.00" y1="501.30" x2="563.00" y2="503.90" stroke="#3d5489" stroke-width="0.7"/>
<line x1="586.80" y1="501.30" x2="586.80" y2="503.90" stroke="#3d5489" stroke-width="0.7"/>
<line x1="590.10" y1="501.30" x2="590.10" y2="503.90" stroke="#3d5489" stroke-width="0.7"/>
<line x1="619.50" y1="501.30" x2="619.50" y2="503.90" stroke="#3d5489" stroke-width="0.7"/>
<line x1="623.40" y1="501.30" x2="623.40" y2="503.90" stroke="#3d5489" stroke-width="0.7"/>
<line x1="627.40" y1="501.30" x2="627.40" y2="503.90" stroke="#3d5489" stroke-width="0.7"/>
<line x1="629.10" y1="501.30" x2="629.10" y2="503.90" stroke="#3d5489" stroke-width="0.7"/>
<line x1="643.90" y1="501.30" x2="643.90" y2="503.90" stroke="#3d5489" stroke-width="0.7"/>
<line x1="645.20" y1="501.30" x2="645.20" y2="503.90" stroke="#3d5489" stroke-width="0.7"/>
<line x1="651.90" y1="501.30" x2="651.90" y2="503.90" stroke="#3d5489" stroke-width="0.7"/>
<line x1="655.30" y1="501.30" x2="655.30" y2="503.90" stroke="#3d5489" stroke-width="0.7"/>
<line x1="662.00" y1="501.30" x2="662.00" y2="503.90" stroke="#3d5489" stroke-width="0.7"/>
<line x1="663.70" y1="501.30" x2="663.70" y2="503.90" stroke="#3d5489" stroke-width="0.7"/>
<line x1="666.00" y1="501.30" x2="666.00" y2="503.90" stroke="#3d5489" stroke-width="0.7"/>
<line x1="673.70" y1="501.30" x2="673.70" y2="503.90" stroke="#3d5489" stroke-width="0.7"/>
<line x1="675.40" y1="501.30" x2="675.40" y2="503.90" stroke="#3d5489" stroke-width="0.7"/>
<line x1="683.30" y1="501.30" x2="683.30" y2="503.90" stroke="#3d5489" stroke-width="0.7"/>
<path d="M390.30,436.60 H402.30 V447.10 H418.30 V457.60 H419.60 V468.30 H420.90 V478.30 H453.60 V489.60 H464.70 V501.30 H468.50 V513.70 H562.20" fill="none" stroke="#cf4d4d" stroke-width="1.3" stroke-linejoin="miter" stroke-linecap="butt"/>
<line x1="450.50" y1="477.00" x2="450.50" y2="479.60" stroke="#cf4d4d" stroke-width="0.7"/>
<line x1="461.50" y1="488.30" x2="461.50" y2="490.90" stroke="#cf4d4d" stroke-width="0.7"/>
<line x1="481.60" y1="512.40" x2="481.60" y2="515.00" stroke="#cf4d4d" stroke-width="0.7"/>
<line x1="485.50" y1="512.40" x2="485.50" y2="515.00" stroke="#cf4d4d" stroke-width="0.7"/>
<line x1="492.10" y1="512.40" x2="492.10" y2="515.00" stroke="#cf4d4d" stroke-width="0.7"/>
<line x1="495.20" y1="512.40" x2="495.20" y2="515.00" stroke="#cf4d4d" stroke-width="0.7"/>
<line x1="505.30" y1="512.40" x2="505.30" y2="515.00" stroke="#cf4d4d" stroke-width="0.7"/>
<line x1="517.20" y1="512.40" x2="517.20" y2="515.00" stroke="#cf4d4d" stroke-width="0.7"/>
<line x1="540.00" y1="512.40" x2="540.00" y2="515.00" stroke="#cf4d4d" stroke-width="0.7"/>
<line x1="545.20" y1="512.40" x2="545.20" y2="515.00" stroke="#cf4d4d" stroke-width="0.7"/>
<line x1="548.10" y1="512.40" x2="548.10" y2="515.00" stroke="#cf4d4d" stroke-width="0.7"/>
</g>
</svg></div>
</body></html>
